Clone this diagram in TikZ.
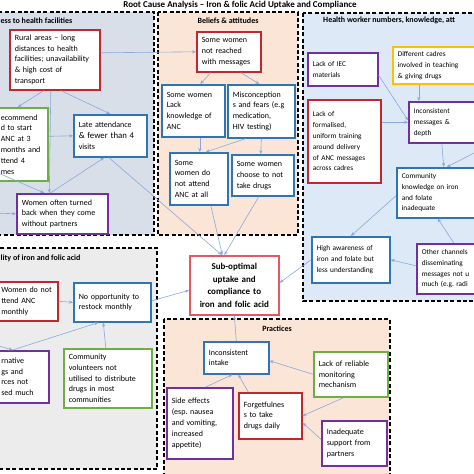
\documentclass[tikz,border=0pt]{standalone}
\usepackage{fontspec}
\setmainfont{Carlito}
\usetikzlibrary{arrows.meta}
\frenchspacing
\definecolor{cred}{RGB}{192,40,45}
\definecolor{cblue}{RGB}{46,117,182}
\definecolor{cgreen}{RGB}{112,173,71}
\definecolor{cpurple}{RGB}{112,48,160}
\definecolor{cyellow}{RGB}{255,192,0}
\definecolor{cpink}{RGB}{228,88,100}
\definecolor{arrowc}{RGB}{140,168,218}
\definecolor{faccess}{RGB}{216,223,233}
\definecolor{fbelief}{RGB}{251,229,214}
\definecolor{fhealth}{RGB}{221,233,246}
\definecolor{favail}{RGB}{236,236,236}
\begin{document}
\begin{tikzpicture}[x=1pt, y=-1pt, font=\fontsize{8}{10.8}\selectfont,
  panel/.style={draw=black, line width=1.4pt, dash pattern=on 4pt off 2.4pt},
  bx/.style={draw, fill=white, line width=1.6pt, anchor=north west, align=left, inner xsep=5pt, inner ysep=3pt},
  sm/.style={font=\fontsize{7.3}{10.8}\selectfont},
  hd/.style={font=\fontsize{8}{10}\selectfont\bfseries, inner sep=0pt},
  arr/.style={draw=arrowc, line width=0.6pt, -{Stealth[length=4pt, width=3.2pt]}}]
  \useasboundingbox (0,0) rectangle (474,474);
  \clip (0,0) rectangle (474,474);

  % panels
  \filldraw[panel, fill=faccess] (-10,12) rectangle (154,235);
  \filldraw[panel, fill=fbelief] (158,12) rectangle (298,235);
  \filldraw[panel, fill=fhealth] (303,13) rectangle (490,301);
  \filldraw[panel, fill=favail]  (-10,248) rectangle (157,469);
  \filldraw[panel, fill=fbelief] (164,319) rectangle (390,490);

  \node[font=\fontsize{9}{10}\selectfont\bfseries, inner sep=0pt] (title) at (240,5) {Root Cause Analysis -- Iron \& folic Acid Uptake and Compliance};
  \node[hd, anchor=west] (haccess) at (0.5,21)  {ess to health facilities};
  \node[hd]              (hbelief) at (228,21) {Beliefs \& attitudes};
  \node[hd, anchor=west] (hhealth) at (323,20) {Health worker numbers, knowledge, att};
  \node[hd, anchor=west] (havail)  at (0.5,258) {lity of iron and folic acid};
  \node[hd]              (hpract)  at (277,329) {Practices};

  % access to health facilities
  \node[bx, draw=cred, minimum width=90pt, minimum height=60pt, text width=80pt] (rural) at (9,29)
    {Rural areas -- long\\distances to health\\facilities; unavailability\\\& high cost of\\transport};
  \node[bx, draw=cgreen, minimum width=52pt, minimum height=73pt, text width=42pt] (recom) at (-5,107)
    {ecommend\\d to start\\ANC at 3\\months and\\ttend 4\\mes};
  \node[bx, draw=cblue, minimum width=73pt, minimum height=42pt, text width=63pt] (late) at (73,114)
    {Late attendance\\{\fontsize{8.8}{10.8}\selectfont \& fewer than 4}\\visits};
  \node[bx, draw=cpurple, minimum width=91pt, minimum height=40pt, text width=81pt] (women) at (16,193)
    {Women often turned\\back when they come\\without partners};

  % beliefs and attitudes
  \node[bx, draw=cred, minimum width=64pt, minimum height=40pt, text width=54pt] (notreached) at (196,31)
    {Some women\\not reached\\with messages};
  \node[bx, draw=cblue, minimum width=63pt, minimum height=52pt, text width=53pt] (lack) at (161,84)
    {Some women\\Lack\\knowledge of\\ANC};
  \node[bx, draw=cblue, minimum width=67pt, minimum height=53pt, text width=57pt] (misc) at (227,84)
    {Misconception\\s and fears (e.g\\medication,\\HIV testing)};
  \node[bx, draw=cblue, minimum width=58pt, minimum height=52pt, text width=48pt] (notattend) at (169,152)
    {Some\\women do\\not attend\\ANC at all};
  \node[bx, draw=cblue, minimum width=62pt, minimum height=41pt, text width=52pt] (choose) at (231,154)
    {Some women\\choose to not\\take drugs};

  % health workers
  \node[bx, sm, draw=cpurple, minimum width=70pt, minimum height=33pt, text width=60pt] (iec) at (307,52)
    {Lack of IEC\\materials};
  \node[bx, sm, draw=cyellow, minimum width=90pt, minimum height=37pt, text width=80pt] (cadres) at (392,46)
    {Different cadres\\involved in teaching\\\& giving drugs};
  \node[bx, sm, draw=cred, minimum width=73pt, minimum height=83pt, text width=63pt] (formal) at (307,99)
    {Lack of\\formalised,\\uniform training\\around delivery\\of ANC messages\\across cadres};
  \node[bx, sm, draw=cpurple, minimum width=72pt, minimum height=41pt, text width=62pt] (incons) at (408,101)
    {Inconsistent\\messages \&\\depth};
  \node[bx, sm, draw=cblue, minimum width=84pt, minimum height=50pt, text width=74pt] (community) at (396,167)
    {Community\\knowledge on iron\\and folate\\inadequate};
  \node[bx, sm, draw=cblue, minimum width=78pt, minimum height=46pt, text width=68pt] (high) at (311,236)
    {High awareness of\\iron and folate but\\less understanding};
  \node[bx, sm, draw=cpurple, minimum width=70pt, minimum height=50pt, text width=60pt] (other) at (416,243)
    {Other channels\\disseminating\\messages not u\\much (e.g. radi};

  % availability
  \node[bx, draw=cred, minimum width=61.5pt, minimum height=39pt, text width=51.5pt] (wmonthly) at (-4.5,281)
    {Women do not\\ttend ANC\\monthly};
  \node[bx, draw=cblue, minimum width=77pt, minimum height=39pt, text width=67pt] (restock) at (73,282)
    {No opportunity to\\restock monthly};
  \node[bx, draw=cpurple, minimum width=52.5pt, minimum height=52pt, text width=42.5pt] (alt) at (-4.5,350)
    {rnative\\gs and\\rces not\\sed much};
  \node[bx, draw=cgreen, minimum width=88pt, minimum height=59pt, text width=78pt] (vol) at (63,348)
    {Community\\volunteers not\\utilised to distribute\\drugs in most\\communities};

  \node[bx, draw=cpink, minimum width=89pt, minimum height=59pt, text width=79pt, align=center,
        font=\fontsize{9}{12.7}\selectfont\bfseries] (central) at (189,255)
    {Sub-optimal\\uptake and\\compliance to\\iron and folic acid};

  % practices
  \node[bx, draw=cblue, minimum width=65pt, minimum height=32pt, text width=55pt] (intake) at (203,341)
    {Inconsistent\\intake};
  \node[bx, draw=cpurple, minimum width=66pt, minimum height=71pt, text width=56pt] (side) at (166,387)
    {Side effects\\(esp. nausea\\and vomiting,\\increased\\appetite)};
  \node[bx, draw=cred, minimum width=63pt, minimum height=46pt, text width=53pt] (forget) at (238,392)
    {Forgetfulnes\\s to take\\drugs daily};
  \node[bx, draw=cgreen, minimum width=74pt, minimum height=45pt, text width=64pt] (monitor) at (313,351)
    {Lack of reliable\\monitoring\\mechanism};
  \node[bx, draw=cpurple, minimum width=65pt, minimum height=45pt, text width=55pt] (inad) at (321,420)
    {Inadequate\\support from\\partners};

  \coordinate (lg) at (-4,172);
  \coordinate (lw) at (-5,213);
  \coordinate (rc) at (480,150);
  \coordinate (la) at (-4,345);

  % links
  \draw[arr] ([xshift=6pt]rural.south) -- (late.north);
  \draw[arr] ([xshift=-11pt]rural.south) -- ([xshift=-4pt]recom.north);
  \draw[arr] ([xshift=-4pt]rural.south) -- ([xshift=-13pt]women.north);
  \draw[arr] ([yshift=7pt]rural.east) -- (notreached.west);
  \draw[arr] ([yshift=8pt]recom.east) -- (late.west);
  \draw[arr] (lg) -- ([xshift=-18pt]women.north);
  \draw[arr] ([xshift=-12pt]women.north) -- ([xshift=-6pt]late.south);
  \draw[arr] (lw) -- (women.west);
  \draw[arr] ([xshift=-1.5pt]late.south) -- ([xshift=-12.5pt]central.north);

  \draw[arr] ([xshift=-18pt]notreached.south) -- ([xshift=7pt]lack.north);
  \draw[arr] ([xshift=12pt]notreached.south) -- ([xshift=-2pt]misc.north);
  \draw[arr] ([xshift=6.5pt]lack.south) -- ([xshift=1pt]notattend.north);
  \draw[arr] ([xshift=-15.5pt]misc.south) -- ([xshift=7pt]notattend.north);
  \draw[arr] (misc.south) -- ([xshift=-2pt]choose.north);
  \draw[arr] ([xshift=12pt]notattend.south) -- ([xshift=-12pt]central.north);
  \draw[arr] ([xshift=-4pt]choose.south) -- ([xshift=-10pt]central.north);

  \draw[arr] ([yshift=-6pt]iec.east) -- ([yshift=2pt]incons.west);
  \draw[arr] ([xshift=-19pt]cadres.south) -- ([xshift=-26pt]incons.north);
  \draw[arr] ([yshift=19pt]formal.east) -- (incons.west);
  \draw[arr] ([xshift=-3pt]incons.south) -- ([xshift=5pt]community.north);
  \draw[arr] (rc) -- ([xshift=8pt]community.north);
  \draw[arr] ([yshift=-3pt]community.west) -- (high.north);
  \draw[arr] ([xshift=2pt]other.north) -- ([xshift=-1pt]community.south);
  \draw[arr] ([yshift=3pt]other.west) -- (high.east);
  \draw[arr] (high.west) -- ([yshift=2.5pt]central.east);

  \draw[arr] (wmonthly.east) -- (restock.west);
  \draw[arr] (la) -- ([xshift=-10pt]alt.north);
  \draw[arr] ([xshift=-10pt]alt.north) -- ([xshift=-14pt]restock.south);
  \draw[arr] ([xshift=-2pt]vol.north) -- ([xshift=-9pt]restock.south);
  \draw[arr] ([yshift=1.5pt]restock.east) -- ([yshift=-5pt]central.west);

  \draw[arr] (intake.north) -- (central.south);
  \draw[arr] ([xshift=6pt]side.north) -- ([xshift=-4pt]intake.south);
  \draw[arr] ([xshift=-22pt]forget.north) -- ([xshift=2pt]intake.south);
  \draw[arr] (monitor.west) -- ([yshift=-3pt]intake.east);
  \draw[arr] ([xshift=-7pt]monitor.south) -- (forget.east);
  \draw[arr] ([yshift=4pt]inad.west) -- ([yshift=-7pt]forget.east);
\end{tikzpicture}
\end{document}
